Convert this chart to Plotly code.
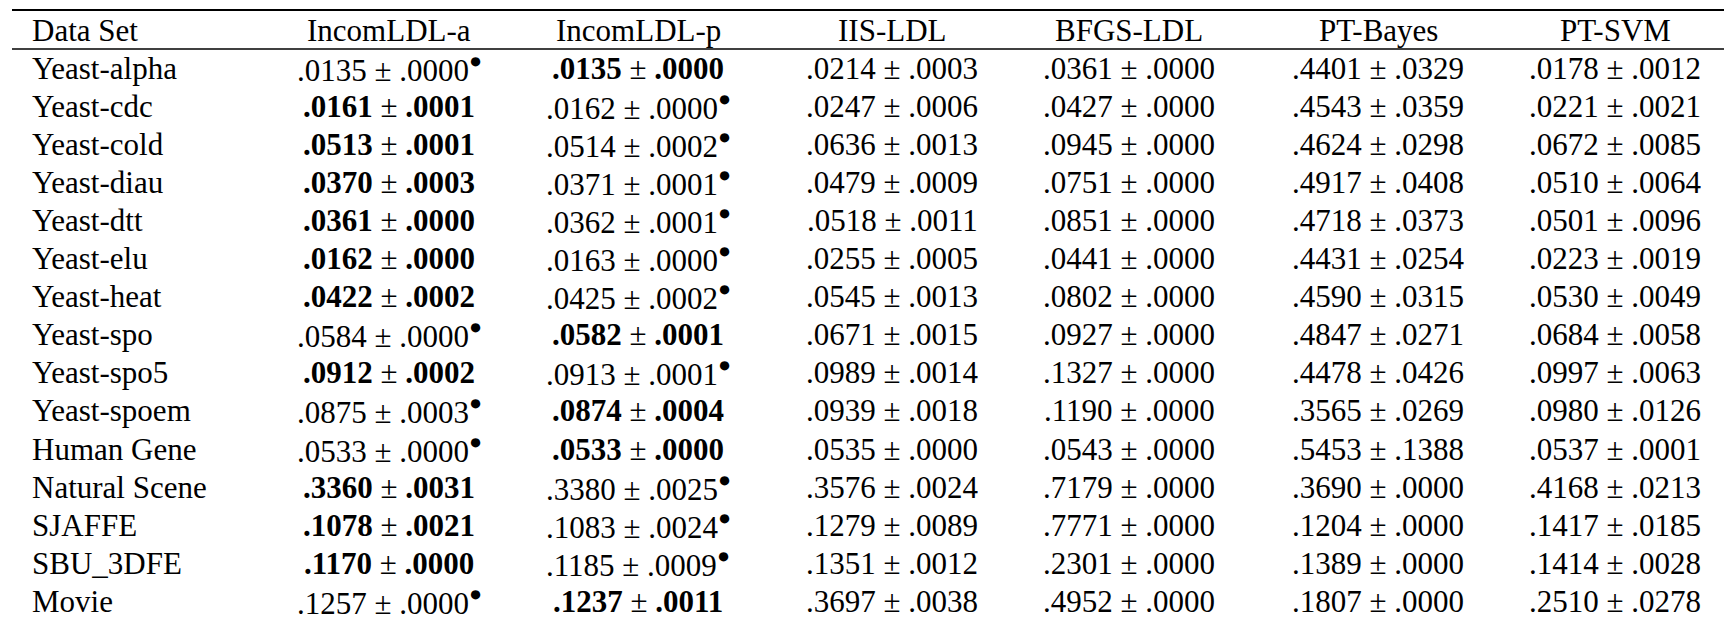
import plotly.graph_objects as go

headers = ["Data Set", "IncomLDL-a", "IncomLDL-p", "IIS-LDL", "BFGS-LDL", "PT-Bayes", "PT-SVM"]
datasets = ["Yeast-alpha", "Yeast-cdc", "Yeast-cold", "Yeast-diau", "Yeast-dtt", "Yeast-elu",
            "Yeast-heat", "Yeast-spo", "Yeast-spo5", "Yeast-spoem", "Human Gene", "Natural Scene",
            "SJAFFE", "SBU_3DFE", "Movie"]
incom_a = [(".0135", ".0000"), (".0161", ".0001"), (".0513", ".0001"), (".0370", ".0003"), (".0361", ".0000"),
           (".0162", ".0000"), (".0422", ".0002"), (".0584", ".0000"), (".0912", ".0002"), (".0875", ".0003"),
           (".0533", ".0000"), (".3360", ".0031"), (".1078", ".0021"), (".1170", ".0000"), (".1257", ".0000")]
incom_p = [(".0135", ".0000"), (".0162", ".0000"), (".0514", ".0002"), (".0371", ".0001"), (".0362", ".0001"),
           (".0163", ".0000"), (".0425", ".0002"), (".0582", ".0001"), (".0913", ".0001"), (".0874", ".0004"),
           (".0533", ".0000"), (".3380", ".0025"), (".1083", ".0024"), (".1185", ".0009"), (".1237", ".0011")]
best = ["p", "a", "a", "a", "a", "a", "a", "p", "a", "p", "p", "a", "a", "a", "p"]
iis = [(".0214", ".0003"), (".0247", ".0006"), (".0636", ".0013"), (".0479", ".0009"), (".0518", ".0011"),
       (".0255", ".0005"), (".0545", ".0013"), (".0671", ".0015"), (".0989", ".0014"), (".0939", ".0018"),
       (".0535", ".0000"), (".3576", ".0024"), (".1279", ".0089"), (".1351", ".0012"), (".3697", ".0038")]
bfgs = [(".0361", ".0000"), (".0427", ".0000"), (".0945", ".0000"), (".0751", ".0000"), (".0851", ".0000"),
        (".0441", ".0000"), (".0802", ".0000"), (".0927", ".0000"), (".1327", ".0000"), (".1190", ".0000"),
        (".0543", ".0000"), (".7179", ".0000"), (".7771", ".0000"), (".2301", ".0000"), (".4952", ".0000")]
ptbayes = [(".4401", ".0329"), (".4543", ".0359"), (".4624", ".0298"), (".4917", ".0408"), (".4718", ".0373"),
           (".4431", ".0254"), (".4590", ".0315"), (".4847", ".0271"), (".4478", ".0426"), (".3565", ".0269"),
           (".5453", ".1388"), (".3690", ".0000"), (".1204", ".0000"), (".1389", ".0000"), (".1807", ".0000")]
ptsvm = [(".0178", ".0012"), (".0221", ".0021"), (".0672", ".0085"), (".0510", ".0064"), (".0501", ".0096"),
         (".0223", ".0019"), (".0530", ".0049"), (".0684", ".0058"), (".0997", ".0063"), (".0980", ".0126"),
         (".0537", ".0001"), (".4168", ".0213"), (".1417", ".0185"), (".1414", ".0028"), (".2510", ".0278")]

W, H = 1732, 620
col_x = [22, 381, 630, 884, 1121, 1370, 1607]
header_y = 22
row_y0, row_dy = 60, 38.1
FONT = dict(family="Liberation Serif, DejaVu Serif, serif", size=31, color="black")

def fmt(pair, bold=False, dot=False):
    m, s = pair
    if bold:
        return f"<b>{m}</b> ± <b>{s}</b>"
    return f"{m} ± {s}" + ("<sup>●</sup>" if dot else "")

fig = go.Figure()
fig.add_trace(go.Scatter(x=[0, W], y=[0, H], mode="markers", marker=dict(opacity=0), hoverinfo="skip", showlegend=False))
ann = []
for j, h in enumerate(headers):
    ann.append(dict(x=col_x[j], y=header_y, text=h, xanchor="left" if j == 0 else "center"))
cols = [incom_a, incom_p, iis, bfgs, ptbayes, ptsvm]
for i, name in enumerate(datasets):
    y = row_y0 + i * row_dy
    ann.append(dict(x=col_x[0], y=y, text=name, xanchor="left"))
    for j, col in enumerate(cols):
        if j == 0:
            t = fmt(col[i], bold=best[i] == "a", dot=best[i] != "a")
        elif j == 1:
            t = fmt(col[i], bold=best[i] == "p", dot=best[i] != "p")
        else:
            t = fmt(col[i])
        ann.append(dict(x=col_x[j + 1], y=y, text=t, xanchor="center"))
for a in ann:
    a.update(xref="x", yref="y", showarrow=False, yanchor="middle", font=FONT)

shapes = [dict(type="line", xref="x", yref="y", x0=4, x1=W - 4, y0=yy, y1=yy, line=dict(color="black", width=w))
          for yy, w in [(2, 2), (41, 1.3), (615, 2)]]

fig.update_layout(width=W, height=H, margin=dict(l=0, r=0, t=0, b=0), plot_bgcolor="white", paper_bgcolor="white",
                  annotations=ann, shapes=shapes,
                  xaxis=dict(range=[0, W], visible=False, fixedrange=True),
                  yaxis=dict(range=[H, 0], visible=False, fixedrange=True))
fig.write_html("out.html")
